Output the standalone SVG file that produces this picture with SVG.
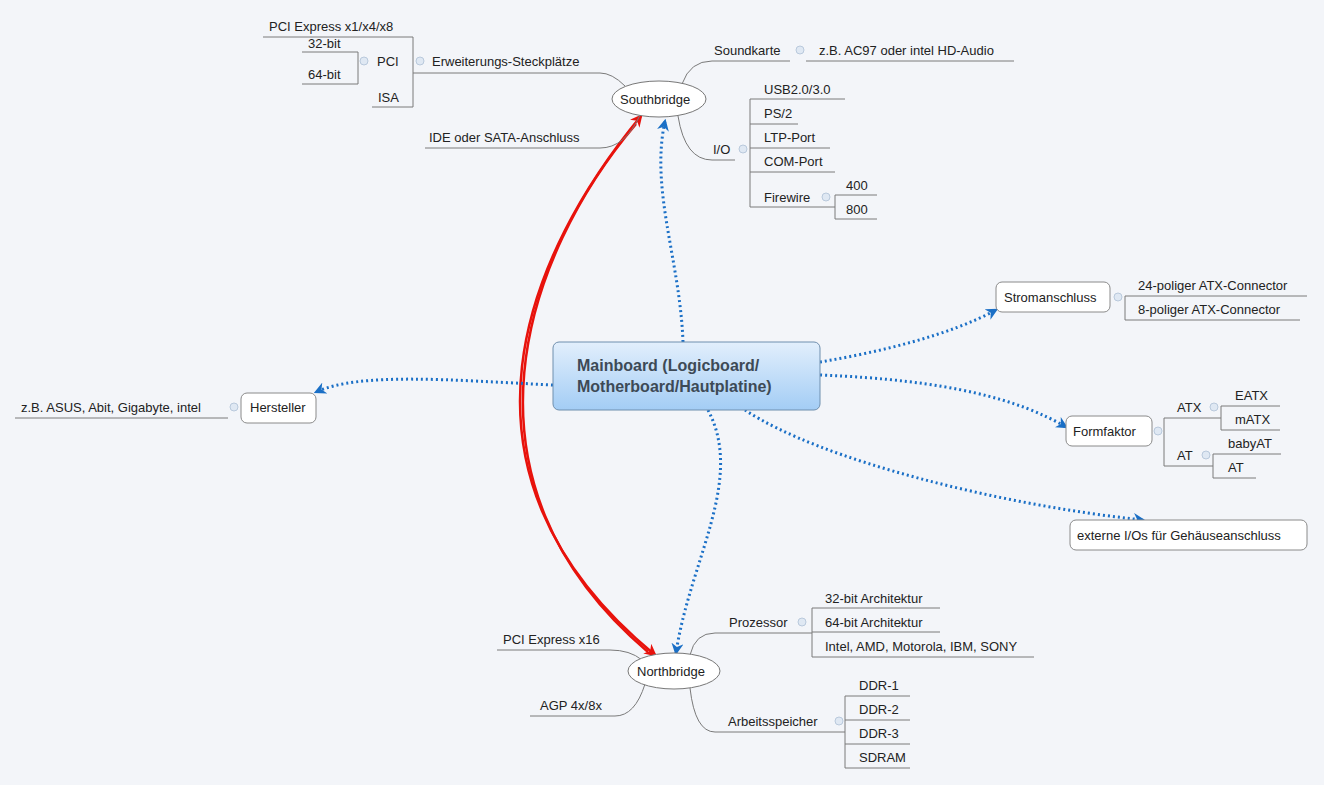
<svg xmlns="http://www.w3.org/2000/svg" width="1324" height="785" viewBox="0 0 1324 785">
<style>
text{font-family:"Liberation Sans",Arial,sans-serif;font-size:13px;fill:#222}
.l{fill:none;stroke:#7a7a7a;stroke-width:1}
.c{fill:#dfe8f3;stroke:#b9c9dc;stroke-width:1}
.b{fill:#fff;stroke:#8a8a8a;stroke-width:1}
.d{fill:none;stroke:#1a6fc6;stroke-width:3;stroke-dasharray:2 3}
.r{fill:none;stroke:#e8120c;stroke-width:2.5}
</style>
<defs>
<linearGradient id="g" x1="0" y1="0" x2="0" y2="1"><stop offset="0" stop-color="#e2effc"/><stop offset="1" stop-color="#a3cdf5"/></linearGradient>
<marker id="ab" viewBox="0 0 10 10" refX="8" refY="5" markerWidth="4" markerHeight="4" orient="auto"><path d="M0,0L10,5L0,10L3,5z" fill="#1a6fc6"/></marker>
<marker id="ar" viewBox="0 0 10 10" refX="8" refY="5" markerWidth="5" markerHeight="5" orient="auto-start-reverse"><path d="M0,0L10,5L0,10L3,5z" fill="#e8120c"/></marker>
</defs>
<rect width="1324" height="785" fill="#f3f5f9"/>
<g id="connectors">
<path class="r" d="M641,116 C530,250 430,470 655,655" marker-start="url(#ar)" marker-end="url(#ar)"/>
<path class="r" d="M636,124 C525,255 445,480 648,652"/>
<path class="d" d="M683,342 C680,260 650,190 665,121" marker-end="url(#ab)"/>
<path class="d" d="M553,385 C450,380 360,372 316,392" marker-end="url(#ab)"/>
<path class="d" d="M820,362 C880,352 950,335 996,310" marker-end="url(#ab)"/>
<path class="d" d="M820,375 C950,380 1020,400 1066,427" marker-end="url(#ab)"/>
<path class="d" d="M745,410 C820,460 1000,505 1143,520" marker-end="url(#ab)"/>
<path class="d" d="M708,410 C745,480 690,560 676,653" marker-end="url(#ab)"/>
</g>
<g id="southbridge">
<path class="l" d="M625,86 Q612,73 600,73 H413 M600,148 H425 M600,148 Q625,148 640,115 M413,37 H263 M413,37 V107 H372 M358,73 M358,52 H302 M358,52 V84 H302 M682,84 Q690,61 712,61 H790 M806,61 H1014 M678,116 Q685,160 712,160 H735 M750,99 H845 M750,99 V207 H835 M750,124 H798 M750,148 H830 M750,172 H835 M835,195 H877 M835,195 V219 H877"/>
<ellipse cx="659" cy="99" rx="47" ry="18" fill="#fff" stroke="#777"/>
<text x="620" y="104">Southbridge</text>
<circle class="c" cx="420" cy="61" r="4"/><circle class="c" cx="364" cy="61" r="4"/><circle class="c" cx="800" cy="50" r="4"/><circle class="c" cx="743" cy="149" r="4"/><circle class="c" cx="826" cy="197" r="4"/>
<text x="432" y="66">Erweiterungs-Steckplätze</text>
<text x="269" y="31">PCI Express x1/x4/x8</text>
<text x="377" y="66">PCI</text>
<text x="308" y="48">32-bit</text>
<text x="308" y="79">64-bit</text>
<text x="378" y="102">ISA</text>
<text x="429" y="142">IDE oder SATA-Anschluss</text>
<text x="714" y="55">Soundkarte</text>
<text x="819" y="55">z.B. AC97 oder intel HD-Audio</text>
<text x="713" y="154">I/O</text>
<text x="764" y="94">USB2.0/3.0</text>
<text x="764" y="118">PS/2</text>
<text x="764" y="142">LTP-Port</text>
<text x="764" y="166">COM-Port</text>
<text x="764" y="202">Firewire</text>
<text x="846" y="190">400</text>
<text x="846" y="214">800</text>
</g>
<g id="mainboard">
<rect x="553" y="342" width="267" height="68" rx="6" fill="url(#g)" stroke="#6f8fae"/>
<text x="577" y="371" style="font-size:16px;font-weight:bold;fill:#3d4a56">Mainboard (Logicboard/</text>
<text x="577" y="392" style="font-size:16px;font-weight:bold;fill:#3d4a56">Motherboard/Hautplatine)</text>
</g>
<g id="hersteller">
<path class="l" d="M15,418 H228"/>
<rect class="b" x="241" y="393" width="75" height="30" rx="6"/>
<circle class="c" cx="234" cy="407" r="4"/>
<text x="250" y="412">Hersteller</text>
<text x="21" y="412">z.B. ASUS, Abit, Gigabyte, intel</text>
</g>
<g id="strom">
<path class="l" d="M1125,296 H1307 M1125,296 V320 H1300"/>
<rect class="b" x="996" y="282" width="114" height="30" rx="6"/>
<circle class="c" cx="1118" cy="297" r="4"/>
<text x="1004" y="302">Stromanschluss</text>
<text x="1138" y="290">24-poliger ATX-Connector</text>
<text x="1138" y="314">8-poliger ATX-Connector</text>
</g>
<g id="formfaktor">
<path class="l" d="M1164,418 H1221 M1164,418 V466 H1213 M1221,406 H1280 M1221,406 V430 H1280 M1213,454 H1281 M1213,454 V478 H1256"/>
<rect class="b" x="1066" y="416" width="86" height="30" rx="6"/>
<circle class="c" cx="1158" cy="431" r="4"/><circle class="c" cx="1214" cy="407" r="4"/><circle class="c" cx="1206" cy="455" r="4"/>
<text x="1073" y="436">Formfaktor</text>
<text x="1177" y="412">ATX</text>
<text x="1235" y="400">EATX</text>
<text x="1235" y="424">mATX</text>
<text x="1177" y="460">AT</text>
<text x="1228" y="448">babyAT</text>
<text x="1228" y="472">AT</text>
</g>
<g id="externe">
<rect class="b" x="1070" y="520" width="237" height="30" rx="6"/>
<text x="1077" y="540">externe I/Os für Gehäuseanschluss</text>
</g>
<g id="northbridge">
<path class="l" d="M497,650 H610 Q630,650 642,660 M530,716 H615 Q635,716 645,684 M690,655 Q695,633 715,633 H812 M812,608 H940 M812,608 V657 H1034 M812,632 H940 M690,688 Q695,732 715,732 H845 M845,696 H910 M845,696 V768 H910 M845,720 H910 M845,744 H910"/>
<ellipse cx="674" cy="671" rx="46" ry="18" fill="#fff" stroke="#777"/>
<text x="637" y="676">Northbridge</text>
<circle class="c" cx="802" cy="622" r="4"/><circle class="c" cx="839" cy="721" r="4"/>
<text x="503" y="644">PCI Express x16</text>
<text x="540" y="710">AGP 4x/8x</text>
<text x="729" y="627">Prozessor</text>
<text x="825" y="603">32-bit Architektur</text>
<text x="825" y="627">64-bit Architektur</text>
<text x="825" y="651">Intel, AMD, Motorola, IBM, SONY</text>
<text x="728" y="726">Arbeitsspeicher</text>
<text x="859" y="690">DDR-1</text>
<text x="859" y="714">DDR-2</text>
<text x="859" y="738">DDR-3</text>
<text x="859" y="762">SDRAM</text>
</g>
</svg>
